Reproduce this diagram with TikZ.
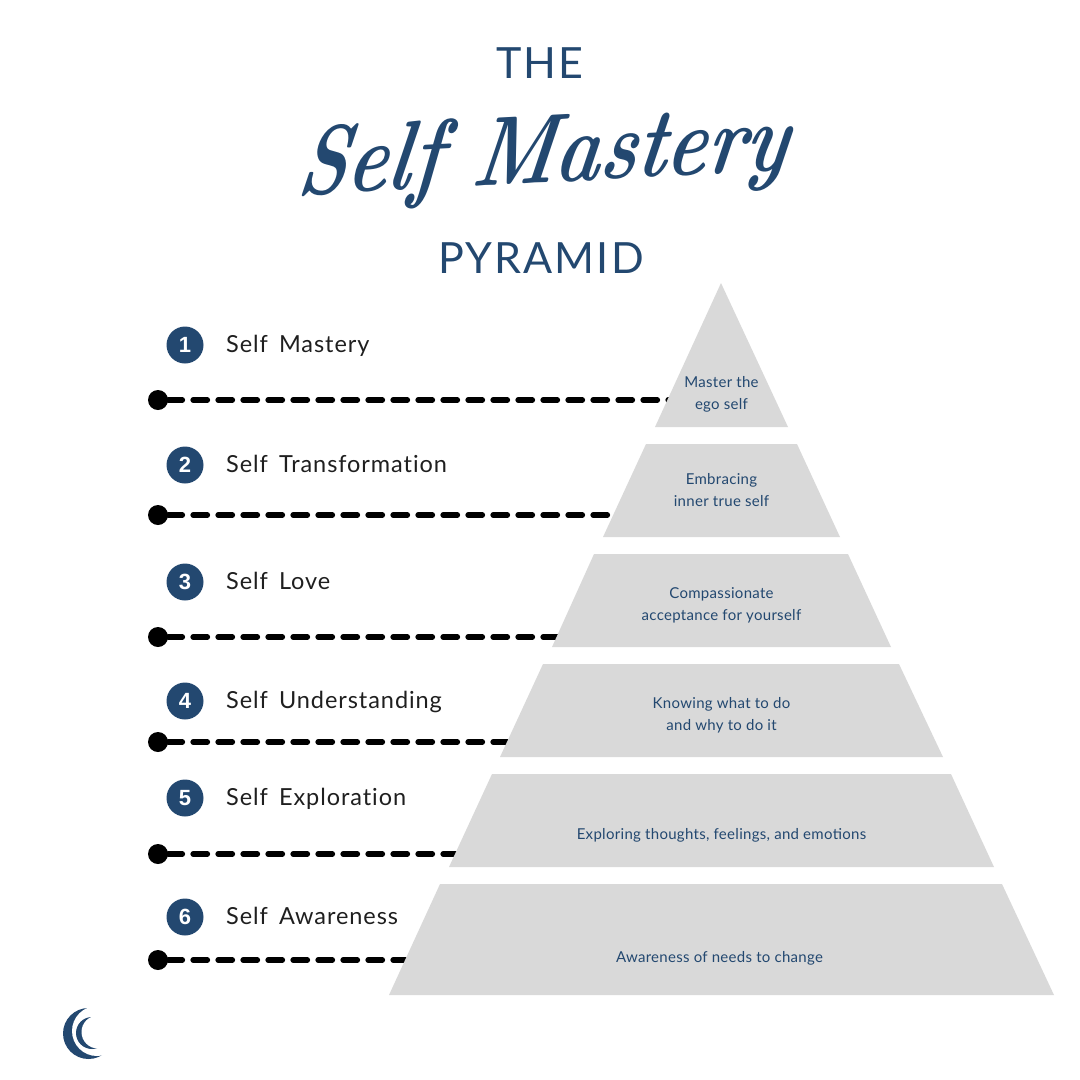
\documentclass[tikz,border=0pt]{standalone}
\usepackage{fontspec}
\newfontfamily\bodyfont[LetterSpace=2]{Lato}
\newfontfamily\titlefont[LetterSpace=5]{Lato}
\newfontfamily\labelfont[LetterSpace=4,Ligatures=NoCommon,WordSpace=1.6]{Lato}
\newfontfamily\numfont{Liberation Sans}
\definecolor{navy}{HTML}{234870}
\definecolor{slab}{HTML}{D9D9D9}
\tikzset{
 slice/.style={fill=slab,draw=none},
 slicetext/.style={text=navy,font=\bodyfont\fontsize{15}{22}\selectfont,align=center,inner sep=0pt},
 stepnum/.style={circle,fill=navy,text=white,minimum size=37pt,inner sep=0pt,font=\numfont\bfseries\fontsize{22}{22}\selectfont},
 steplabel/.style={anchor=base west,inner sep=0pt,text=black!88,font=\labelfont\fontsize{23.5}{24}\selectfont},
 enddot/.style={circle,fill=black,minimum size=20pt,inner sep=0pt},
 leader/.style={line width=5.2pt,black,dash pattern=on 14.5pt off 10.5pt,line cap=round},
 titletext/.style={text=navy,inner sep=0pt,font=\titlefont\fontsize{43}{44}\selectfont},
}
\begin{document}
\begin{tikzpicture}[x=1pt,y=-1pt]
\useasboundingbox (0,0) rectangle (1080,1080);
\node[titletext] (the) at (540,63) {THE};
\node[titletext] (pyr) at (541,258) {PYRAMID};
\node[inner sep=0pt,text=navy,font=\bfseries\itshape\fontsize{78}{78}\selectfont,rotate=3,xslant=.2,yscale=1.25,xscale=.98,transform shape] (script) at (544,158) {Self Mastery};
% leaders under slices
\foreach \n/\y/\xe in {a/400/690,b/515/612,c/637/580,d/742/530,e/854/480,f/960/430}{
 \node[enddot] (dot\n) at (158,\y) {};
 \coordinate (end\n) at (\xe,\y);
 \draw[leader] (dot\n.center) ++(10,0) -- (end\n);
}
% pyramid
\fill[slice] (721,283) -- (788,427) -- (655,427) -- cycle;
\fill[slice] (646,444) -- (797,444) -- (840,537) -- (603,537) -- cycle;
\fill[slice] (594,554) -- (848,554) -- (891,647) -- (552,647) -- cycle;
\fill[slice] (543,664) -- (899,664) -- (943,757) -- (500,757) -- cycle;
\fill[slice] (492,774) -- (951,774) -- (994,867) -- (449,867) -- cycle;
\fill[slice] (440,884) -- (1002,884) -- (1054,995) -- (389,995) -- cycle;
\node[slicetext] (t1) at (721.5,394) {Master the\\ego self};
\node[slicetext] (t2) at (721.5,490) {Embracing\\inner true self};
\node[slicetext] (t3) at (721.5,605) {Compassionate\\acceptance for yourself};
\node[slicetext] (t4) at (721.5,715) {Knowing what to do\\and why to do it};
\node[slicetext] (t5) at (721.5,835) {Exploring thoughts, feelings, and emotions};
\node[slicetext] (t6) at (719.5,958) {Awareness of needs to change};
% steps
\foreach \i/\y/\txt in {1/345/Self Mastery,2/465/Self Transformation,3/582/Self Love,4/701/Self Understanding,5/798/Self Exploration,6/917/Self Awareness}{
 \node[stepnum] (n\i) at (185,\y) {\i};
 \node[steplabel] (l\i) at (226,\y+7) {\txt};
}
% logo
\fill[navy] (88.5,1033.5) circle (25.5);
\fill[white] (97,1031) circle (25);
\fill[navy] (92,1033) circle (16);
\fill[white] (98,1032) circle (16.5);
\end{tikzpicture}
\end{document}
